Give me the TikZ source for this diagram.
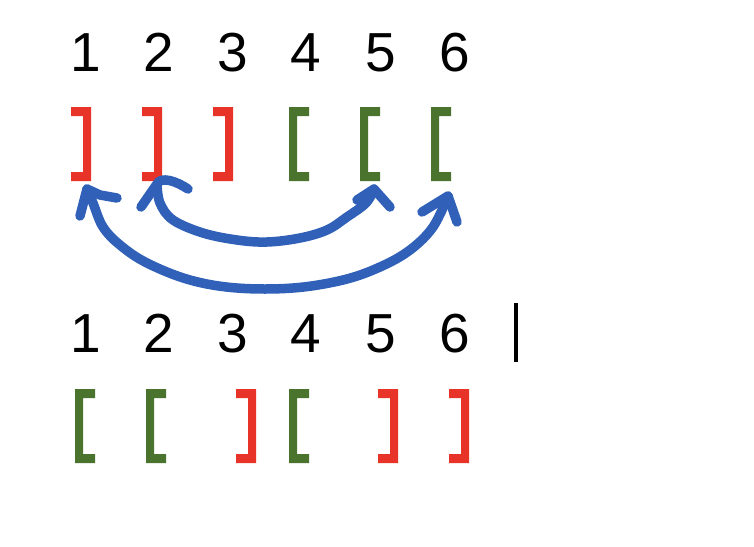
\documentclass[tikz,border=0pt]{standalone}
\usepackage{fontspec}
\setmainfont{Liberation Sans}
\definecolor{bred}{HTML}{E83428}
\definecolor{bgreen}{HTML}{4A742E}
\definecolor{bblue}{HTML}{3060B8}
\tikzset{
  digit/.style={font=\fontsize{55}{60}\selectfont, inner sep=0pt, anchor=base},
  ink/.style={draw=bblue, line width=9.5pt, line cap=round, line join=round},
  lbr/.pic={\fill (0,0)--(20,0)--(20,9)--(8,9)--(8,65)--(20,65)--(20,74)--(0,74)--cycle;},
  rbr/.pic={\fill (0,0)--(20,0)--(20,74)--(0,74)--(0,65)--(12,65)--(12,9)--(0,9)--cycle;}
}
\begin{document}
\begin{tikzpicture}[x=1pt,y=-1pt]
\useasboundingbox (0,0) rectangle (754,546);
% top numbers
\node[digit] (n1) at (86,71) {1};
\node[digit] (n2) at (158.5,71) {2};
\node[digit] (n3) at (232.5,71) {3};
\node[digit] (n4) at (305.5,71) {4};
\node[digit] (n5) at (381,71) {5};
\node[digit] (n6) at (455,71) {6};
% top brackets
\begin{scope}[bred]
\pic at (71,107) {rbr};
\pic at (142,107) {rbr};
\pic at (213,107) {rbr};
\end{scope}
\begin{scope}[bgreen]
\pic at (289,107) {lbr};
\pic at (360,107) {lbr};
\pic at (431,107) {lbr};
\end{scope}
% arrow tips
\coordinate (t2) at (157,184);
\coordinate (t5) at (374,189);
\coordinate (t1) at (87,189);
\coordinate (t6) at (448,196);
% inner arrow
\draw[ink] plot[smooth, tension=0.6] coordinates {(t2) (160,203) (173,220) (203,233) (237,240) (267,242) (300,238) (327,230) (347,217) (366,203) (t5)};
\draw[ink] (141,207) -- (t2) .. controls (161,176) and (176,181) .. (188,189);
\draw[ink] (357,200) -- (t5) -- (390,207);
% outer arrow
\draw[ink] plot[smooth, tension=0.6] coordinates {(t1) (93,203) (103,227) (120,245) (147,263) (190,280) (237,288) (293,288) (343,280) (380,267) (410,250) (433,227) (t6)};
\draw[ink] (80,216) -- (t1) -- (100,195) -- (117,198);
\draw[ink] (422,212) -- (t6) -- (457,222);
% bottom numbers
\node[digit] (m1) at (86,352) {1};
\node[digit] (m2) at (158.5,352) {2};
\node[digit] (m3) at (232.5,352) {3};
\node[digit] (m4) at (305.5,352) {4};
\node[digit] (m5) at (381,352) {5};
\node[digit] (m6) at (455,352) {6};
\fill (514,303) rectangle (518,362);
% bottom brackets
\begin{scope}[bgreen]
\pic at (75,389) {lbr};
\pic at (146,389) {lbr};
\pic at (289,389) {lbr};
\end{scope}
\begin{scope}[bred]
\pic at (236,389) {rbr};
\pic at (378,389) {rbr};
\pic at (449,389) {rbr};
\end{scope}
\end{tikzpicture}
\end{document}
